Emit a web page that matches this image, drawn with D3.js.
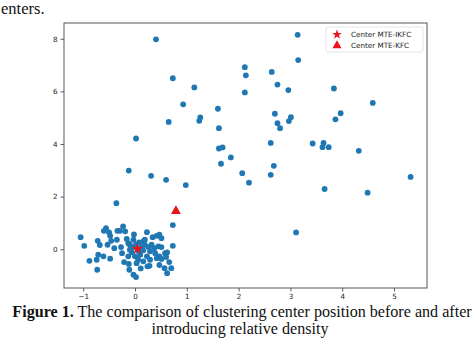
<!DOCTYPE html>
<html><head><meta charset="utf-8">
<script src="https://cdn.jsdelivr.net/npm/d3@7"></script>
<style>body{margin:0;background:#fff;}svg{display:block;}</style>
</head><body>
<svg id="chart" width="474" height="342"></svg>
<script>
// Outer (spread) points
const outerX = [0.405,0.73,1.145,0.93,1.60,0.65,1.26,1.24,1.62,0.02,1.62,1.69,1.85,1.66,-0.12,
 3.14,3.15,2.12,2.14,2.64,2.75,2.96,2.12,3.84,4.59,2.70,2.75,3.01,2.97,2.80,3.97,3.87,2.62,3.43,3.64,3.62,3.74,4.32,2.68,2.07,2.62,2.20,3.66,4.49,5.32,3.11,0.31,0.60,0.98,-0.36,0.73,0.73];
const outerY = [7.98,6.50,6.15,5.51,5.34,4.84,5.01,4.88,4.60,4.21,3.83,3.87,3.49,3.25,2.99,
 8.15,7.19,6.92,6.61,6.74,6.26,6.05,5.96,6.11,5.56,5.15,4.79,5.02,4.87,4.60,5.17,4.94,4.04,4.02,4.04,3.88,3.88,3.74,3.17,2.89,2.83,2.53,2.29,2.15,2.75,0.64,2.79,2.64,2.44,1.75,0.92,0.13];
// Dense cluster near origin
const clusterX = [-1.05,-0.98,-0.88,-0.74,-0.71,-0.73,-0.72,-0.68,-0.60,-0.56,-0.50,-0.48,-0.53,-0.46,-0.48,-0.34,-0.29,-0.35,-0.40,-0.23,-0.19,-0.27,-0.25,-0.21,-0.12,-0.11,-0.02,-0.13,-0.16,-0.03,0.02,0.11,0.23,0.24,0.28,0.34,0.42,0.47,0.51,0.42,0.47,0.51,0.58,0.62,0.60,0.66,0.47,0.57,0.70,0.62,
 -0.10,-0.03,-0.06,0.00,0.06,0.10,0.16,0.19,0.16,0.08,0.26,0.29,0.23,0.16,0.03,0.32,0.37,0.39,-0.03,0.02,0.13,0.07,-0.13,-0.10,0.19,0.45,0.51,0.29,-0.61];
const clusterY = [0.46,0.13,-0.44,-0.40,-0.21,-0.78,0.32,0.16,0.70,0.80,0.64,0.51,0.17,0.32,-0.36,0.70,0.70,0.36,0.04,0.87,0.68,0.08,-0.15,-0.49,-0.56,-0.78,0.56,0.23,0.39,-0.97,-1.06,-0.73,0.65,-0.65,-0.63,0.46,0.51,0.55,0.42,-0.34,-0.27,-0.37,-0.15,-0.12,-0.30,-0.49,-0.60,-0.72,-0.72,-0.91,
 0.17,0.08,-0.12,-0.27,-0.40,-0.21,-0.04,0.17,0.30,0.26,0.08,-0.08,-0.27,-0.46,-0.53,0.17,0.04,-0.15,0.36,0.17,0.08,-0.08,-0.27,-0.02,0.36,0.11,0.08,-0.40,-0.27];
const centerIKFC = [0.045, 0.01];
const centerKFC = [0.79, 1.47];
const xTicks = [-1,0,1,2,3,4,5];
const yTicks = [0,2,4,6,8];
const legendLabels = ["Center MTE-IKFC","Center MTE-KFC"];
const captionBold = "Figure 1.";
const captionRest = " The comparison of clustering center position before and after";
const captionLine2 = "introducing relative density";

const svg = d3.select("#chart");
const L=64, R=427, T=23, B=288;
const x = d3.scaleLinear().domain([-1.371,5.637]).range([L,R]);
const y = d3.scaleLinear().domain([-1.474,8.60]).range([B,T]);

// top text (continuation of page text)
svg.append("text").attr("x",1).attr("y",14).attr("font-family","Liberation Serif, Times New Roman, serif")
  .attr("font-size",16.5).attr("fill","#111").text("enters.");

const pts = outerX.map((v,i)=>[v,outerY[i]]).concat(clusterX.map((v,i)=>[v,clusterY[i]]));
svg.append("g").selectAll("circle").data(pts).join("circle")
  .attr("cx",d=>x(d[0])).attr("cy",d=>y(d[1])).attr("r",2.9).attr("fill","#1f77b4");

// centers
svg.append("path").attr("d",d3.symbol(d3.symbolStar,40)())
  .attr("transform",`translate(${x(centerIKFC[0])},${y(centerIKFC[1])})`).attr("fill","#e8141a");
svg.append("path").attr("d",d3.symbol(d3.symbolTriangle,42)())
  .attr("transform",`translate(${x(centerKFC[0])},${y(centerKFC[1])+0.5})`).attr("fill","#e8141a");

// axes
const xa = svg.append("g").attr("transform",`translate(0,${B})`)
  .call(d3.axisBottom(x).tickValues(xTicks).tickSize(3.5).tickPadding(2).tickFormat(d=>d<0?"\u2212"+Math.abs(d):d));
const ya = svg.append("g").attr("transform",`translate(${L},0)`)
  .call(d3.axisLeft(y).tickValues(yTicks).tickSize(3.5).tickPadding(3));
[xa,ya].forEach(g=>{
  g.select(".domain").remove();
  g.selectAll("line").attr("stroke","#333").attr("stroke-width",0.8);
  g.selectAll("text").attr("font-family","DejaVu Sans, sans-serif").attr("font-size",7.2).attr("fill","#222");
});
svg.append("rect").attr("x",L).attr("y",T).attr("width",R-L).attr("height",B-T)
  .attr("fill","none").attr("stroke","#555").attr("stroke-width",1);

// legend
const lg = svg.append("g");
lg.append("rect").attr("x",326).attr("y",27).attr("width",97).attr("height",25).attr("rx",2)
  .attr("fill","#fff").attr("stroke","#ddd").attr("stroke-width",0.8);
lg.append("path").attr("d",d3.symbol(d3.symbolStar,30)()).attr("transform","translate(337,34.5)").attr("fill","#e8141a");
lg.append("path").attr("d",d3.symbol(d3.symbolTriangle,36)()).attr("transform","translate(337,45.5)").attr("fill","#e8141a");
lg.selectAll("text.l").data(legendLabels).join("text").attr("class","l")
  .attr("x",351).attr("y",(d,i)=>37+i*10.8).attr("font-family","DejaVu Sans, sans-serif")
  .attr("font-size",7.2).attr("fill","#222").text(d=>d);

// caption
const cap = svg.append("text").attr("x",242).attr("y",317).attr("text-anchor","middle")
  .attr("font-family","Liberation Serif, Times New Roman, serif").attr("font-size",16.1).attr("fill","#111");
cap.append("tspan").attr("font-weight","bold").text(captionBold);
cap.append("tspan").text(captionRest);
svg.append("text").attr("x",240).attr("y",334).attr("text-anchor","middle")
  .attr("font-family","Liberation Serif, Times New Roman, serif").attr("font-size",16.1).attr("fill","#111").text(captionLine2);
</script>
</body></html>
